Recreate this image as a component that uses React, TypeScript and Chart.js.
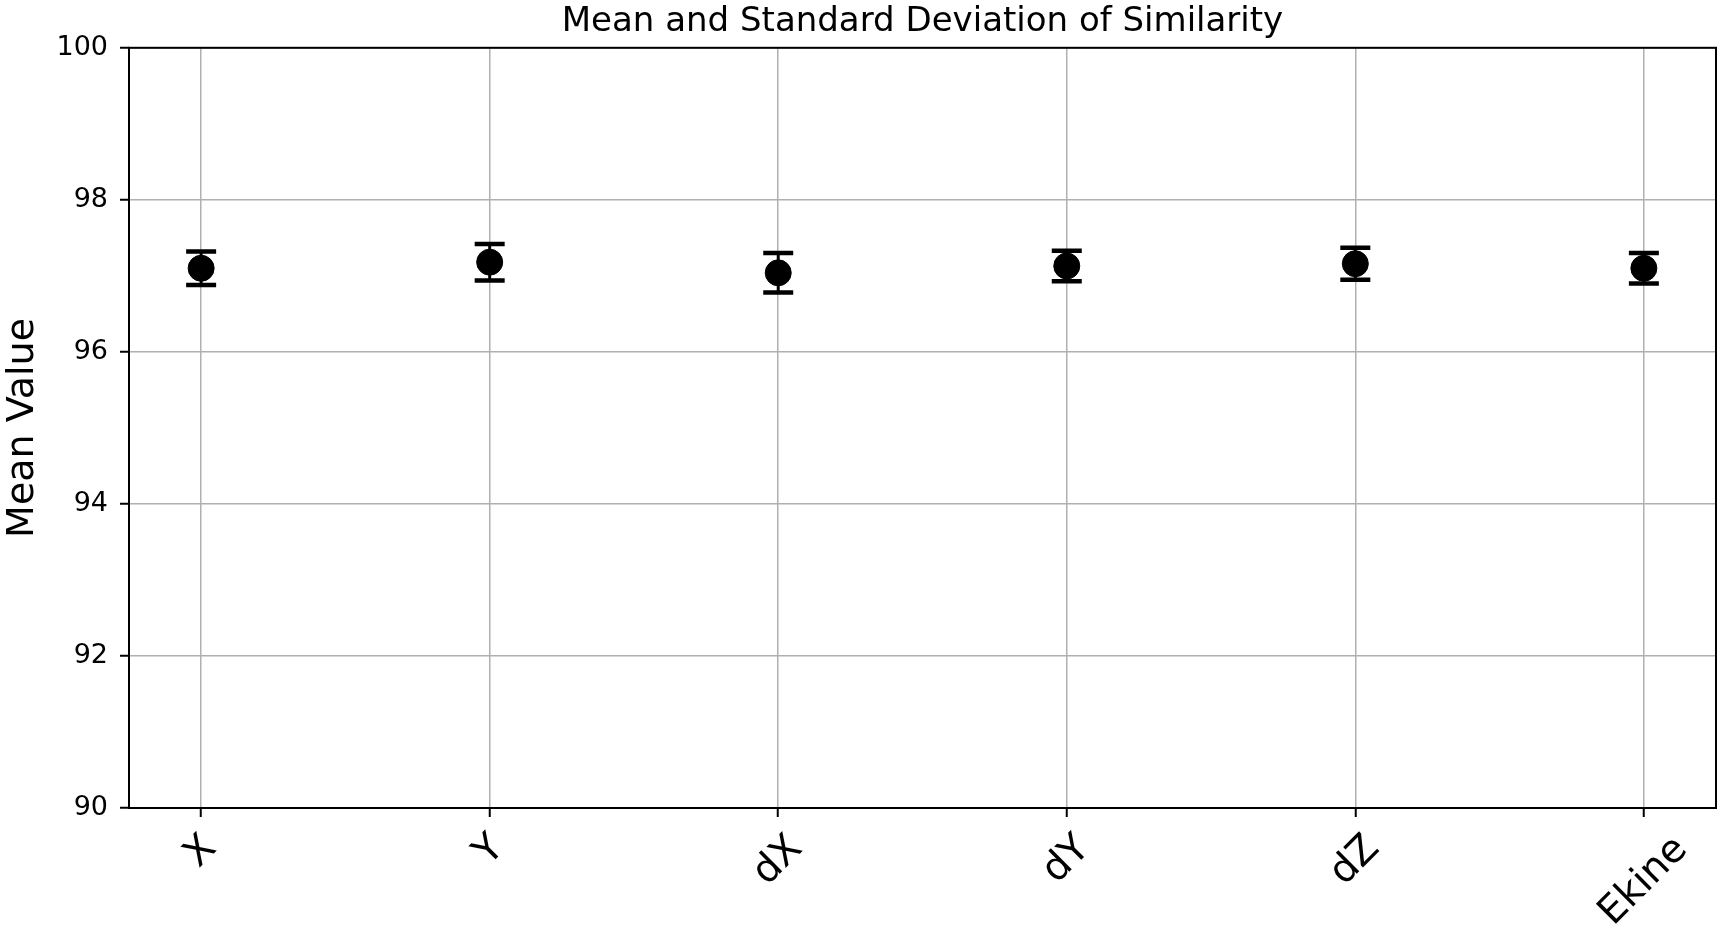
import React, { useEffect, useRef } from "react";
import { Chart, registerables } from "chart.js";

Chart.register(...registerables);

const categories = ["X", "Y", "dX", "dY", "dZ", "Ekine"];
const means = [97.1, 97.18, 97.04, 97.13, 97.16, 97.1];
const stds = [0.22, 0.24, 0.26, 0.2, 0.21, 0.2];
const yTickValues = [90, 92, 94, 96, 98, 100];
const titleText = "Mean and Standard Deviation of Similarity";
const yAxisTitle = "Mean Value";

const FONT = "'DejaVu Sans', sans-serif";

const framePlugin = {
  id: "frame",
  beforeDatasetsDraw(chart: any) {
    const { ctx, chartArea } = chart;
    ctx.save();
    ctx.strokeStyle = "#000";
    ctx.lineWidth = 2;
    ctx.strokeRect(chartArea.left, chartArea.top, chartArea.right - chartArea.left, chartArea.bottom - chartArea.top);
    ctx.restore();
  },
};

const errorBarPlugin = {
  id: "errorBars",
  afterDatasetsDraw(chart: any) {
    const { ctx } = chart;
    const x = chart.scales.x;
    const y = chart.scales.y;
    ctx.save();
    ctx.strokeStyle = "#000";
    means.forEach((m, i) => {
      const px = x.getPixelForValue(i);
      const top = y.getPixelForValue(m + stds[i]);
      const bot = y.getPixelForValue(m - stds[i]);
      ctx.lineWidth = 3;
      ctx.beginPath();
      ctx.moveTo(px, top);
      ctx.lineTo(px, bot);
      ctx.stroke();
      ctx.lineWidth = 4.5;
      ctx.beginPath();
      ctx.moveTo(px - 15, top);
      ctx.lineTo(px + 15, top);
      ctx.moveTo(px - 15, bot);
      ctx.lineTo(px + 15, bot);
      ctx.stroke();
    });
    ctx.restore();
  },
};

const xLabelPlugin = {
  id: "xLabels",
  afterDraw(chart: any) {
    const { ctx, chartArea } = chart;
    const x = chart.scales.x;
    const fs = 39;
    ctx.save();
    ctx.font = `${fs}px ${FONT}`;
    ctx.fillStyle = "#000";
    ctx.textAlign = "center";
    ctx.textBaseline = "middle";
    categories.forEach((c, i) => {
      const px = x.getPixelForValue(i);
      const w = ctx.measureText(c).width;
      const h = fs * 1.164;
      const cy = chartArea.bottom + 17 + (w + h) / (2 * Math.SQRT2) * 1.05;
      ctx.save();
      ctx.translate(px, cy);
      ctx.rotate(-Math.PI / 4);
      ctx.fillText(c, 0, 0);
      ctx.restore();
    });
    ctx.restore();
  },
};

export default function App() {
  const canvasRef = useRef<HTMLCanvasElement | null>(null);

  useEffect(() => {
    document.body.style.margin = "0";
    document.body.style.overflow = "hidden";
    const canvas = canvasRef.current;
    if (!canvas) return;
    const chart = new Chart(canvas, {
      type: "scatter",
      data: {
        datasets: [
          {
            data: means.map((m, i) => ({ x: i, y: m })),
            pointRadius: 13,
            pointHoverRadius: 13,
            backgroundColor: "#000",
            borderColor: "#000",
            showLine: false,
          },
        ],
      },
      options: {
        animation: false,
        responsive: true,
        maintainAspectRatio: false,
        layout: { autoPadding: false, padding: { left: 0, right: 8, top: 0, bottom: 0 } },
        plugins: {
          legend: { display: false },
          tooltip: { enabled: false },
          title: {
            display: true,
            fullSize: false,
            text: titleText,
            color: "#000",
            font: { family: FONT, size: 34, weight: "normal" },
            padding: { top: 2, bottom: 5 },
          },
        },
        scales: {
          x: {
            type: "linear",
            min: -0.25,
            max: 5.25,
            afterBuildTicks: (scale: any) => {
              scale.ticks = categories.map((_, i) => ({ value: i }));
            },
            afterFit: (scale: any) => {
              scale.height = 121;
            },
            ticks: { display: false },
            grid: {
              color: "#b0b0b0",
              lineWidth: 1.5,
              drawTicks: true,
              tickLength: 9,
              tickColor: "#000",
              tickWidth: 2,
            },
            border: { display: false },
          },
          y: {
            type: "linear",
            min: 90,
            max: 100,
            afterBuildTicks: (scale: any) => {
              scale.ticks = yTickValues.map((v) => ({ value: v }));
            },
            afterFit: (scale: any) => {
              scale.width = 129;
            },
            ticks: {
              color: "#000",
              padding: 12,
              font: { family: FONT, size: 27 },
            },
            grid: {
              color: "#b0b0b0",
              lineWidth: 1.5,
              drawTicks: true,
              tickLength: 9,
              tickColor: "#000",
              tickWidth: 2,
            },
            border: { display: false },
            title: {
              display: true,
              text: yAxisTitle,
              color: "#000",
              font: { family: FONT, size: 38 },
              padding: { top: 0, bottom: 0 },
            },
          },
        },
      },
      plugins: [framePlugin, errorBarPlugin, xLabelPlugin],
    });
    return () => chart.destroy();
  }, []);

  return (
    <div style={{ width: "1724px", height: "929px", position: "relative", overflow: "hidden" }}>
      <canvas ref={canvasRef} style={{ display: "block" }} />
    </div>
  );
}
